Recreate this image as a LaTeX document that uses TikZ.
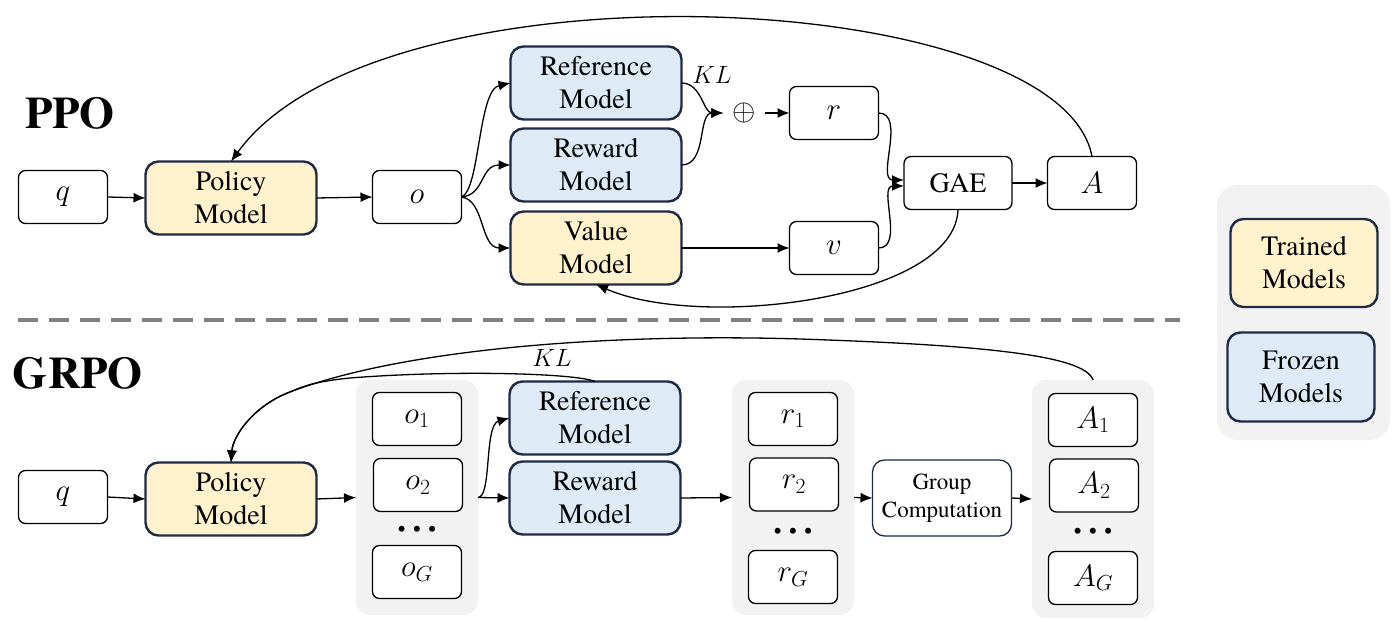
\RequirePackage{fix-cm}
\documentclass[tikz,border=0pt]{standalone}
\usepackage{fontspec}
\setmainfont{texgyretermes}[Extension=.otf, UprightFont=*-regular, BoldFont=*-bold, ItalicFont=*-italic, BoldItalicFont=*-bolditalic]
\usetikzlibrary{arrows.meta,calc}
\definecolor{navy}{HTML}{1F2A44}
\definecolor{trainfill}{HTML}{FFF2CC}
\definecolor{frozfill}{HTML}{DEEBF7}
\definecolor{grpbg}{HTML}{F2F2F2}
\definecolor{dashgray}{HTML}{808080}
\begin{document}
\begin{tikzpicture}[x=1pt,y=-1pt,
 every node/.style={inner sep=0pt, outer sep=0pt},
 dots/.style={font=\fontsize{22}{22}\selectfont},
 box/.style={draw=black, line width=1.3pt, rounded corners=7pt, fill=white, minimum width=89pt, minimum height=53pt, font=\fontsize{31}{33}\selectfont},
 model/.style={draw=navy, line width=2.4pt, rounded corners=13pt, minimum width=171pt, minimum height=73pt, align=center, font=\fontsize{28}{33}\selectfont},
 trained/.style={model, fill=trainfill},
 frozen/.style={model, fill=frozfill},
 grp/.style={fill=grpbg, rounded corners=14pt, minimum width=122pt, minimum height=235pt},
 arr/.style={line width=1.3pt, -{Latex[length=12pt,width=10pt]}},
 title/.style={font=\fontsize{45}{48}\selectfont\bfseries},
 kl/.style={font=\fontsize{25}{25}\selectfont},
]
\useasboundingbox (0,0) rectangle (1400,620);

% ---------------- PPO ----------------
\node[title] (ppo) at (70,113) {PPO};
\node[box] (q1) at (63,197) {$q$};
\node[trained] (pol1) at (231,198) {Policy\\Model};
\node[box] (o) at (417,197) {$o$};
\node[frozen] (ref1) at (596,83) {Reference\\Model};
\node[frozen] (rew1) at (596,165) {Reward\\Model};
\node[trained] (val) at (596,248) {Value\\Model};
\node[font=\fontsize{30}{30}\selectfont, inner sep=9pt] (plus) at (744,113) {$\oplus$};
\node[kl] (kl1) at (712,75) {$KL$};
\node[box] (r) at (834,113) {$r$};
\node[box] (v) at (834,248) {$v$};
\node[box, minimum width=108pt, font=\fontsize{28}{33}\selectfont] (gae) at (958,183) {GAE};
\node[box] (A) at (1092,183) {$A$};

\draw[arr] (q1.east) -- (pol1.west);
\draw[arr] (pol1.east) -- (o.west);
\draw[arr] (o.east) .. controls (480,190) and (478,90) .. (ref1.west);
\draw[arr] (o.east) .. controls (485,195) and (480,165) .. (rew1.west);
\draw[arr] (o.east) .. controls (485,200) and (480,248) .. (val.west);
\draw[arr] (ref1.east) to[out=0,in=180] (plus.west);
\draw[arr] (rew1.east) to[out=0,in=180] (plus.west);
\draw[arr] (plus.east) -- (r.west);
\draw[arr] (r.east) to[out=0,in=180] ($(gae.west)+(0,-3)$);
\draw[arr] (v.east) to[out=0,in=180] ($(gae.west)+(0,3)$);
\draw[arr] (val.east) -- (v.west);
\draw[arr] (gae.east) -- (A.west);
\draw[arr] (gae.south) .. controls (955,300) and (700,330) .. (val.south);
\draw[arr] (A.north) .. controls (1060,-14) and (380,-44) .. (pol1.north);

% ---------------- separator ----------------
\draw[dashgray, line width=3.5pt, dash pattern=on 20pt off 11pt] (18,320) -- (1180,320);

% ---------------- legend ----------------
\node[grp, minimum width=173pt, minimum height=255pt, rounded corners=20pt] (leg) at (1303.5,312.5) {};
\node[trained, minimum width=147pt, minimum height=88pt] (tr) at (1304,263) {Trained\\Models};
\node[frozen, minimum width=147pt, minimum height=89pt] (fr) at (1301,377) {Frozen\\Models};

% ---------------- GRPO ----------------
\node[title] (grpo) at (78,373) {GRPO};
\node[box] (q2) at (63,497) {$q$};
\node[trained] (pol2) at (231,499) {Policy\\Model};

\node[grp] (og) at (417,497.5) {};
\node[box] (o1) at (417,419) {$o_1$};
\node[box] (o2) at (418,485) {$o_2$};
\node[dots] (od) at (417,531) {\textbullet\hspace{7.5pt}\textbullet\hspace{7.5pt}\textbullet};
\node[box] (oG) at (417,572) {$o_G$};

\node[frozen] (ref2) at (595,418) {Reference\\Model};
\node[frozen] (rew2) at (595,498) {Reward\\Model};
\node[kl] (kl2) at (552,358) {$KL$};

\node[grp] (rg) at (793,497.5) {};
\node[box] (r1) at (793,419) {$r_1$};
\node[box] (r2) at (794,484.5) {$r_2$};
\node[dots] (rd) at (793,533) {\textbullet\hspace{7.5pt}\textbullet\hspace{7.5pt}\textbullet};
\node[box] (rG) at (793,577) {$r_G$};

\node[box, draw=navy, rounded corners=12pt, minimum width=139pt, minimum height=76pt, align=center, font=\fontsize{23}{28}\selectfont] (gc) at (942,498) {Group\\Computation};

\node[grp, minimum height=238pt] (ag) at (1093,499) {};
\node[box] (A1) at (1093,420) {$A_1$};
\node[box] (A2) at (1094,485.5) {$A_2$};
\node[dots] (Ad) at (1093,533) {\textbullet\hspace{7.5pt}\textbullet\hspace{7.5pt}\textbullet};
\node[box] (AG) at (1093,578) {$A_G$};

\draw[arr] (q2.east) -- (pol2.west);
\draw[arr] (pol2.east) -- (og.west);
\draw[arr] (og.east) -- (rew2.west);
\draw[arr] (og.east) .. controls (492,497) and (484,425) .. (ref2.west);
\draw[arr] (rew2.east) -- (rg.west);
\draw[arr] (rg.east) -- (gc.west);
\draw[arr] (gc.east) -- (ag.west);
\draw[arr] (ag.north) .. controls (1085,355) and (980,345) .. (800,339)
   .. controls (600,333) and (400,350) .. (290,392)
   .. controls (255,405) and (233,435) .. (pol2.north);
\draw[arr] (ref2.north) .. controls (575,373) and (450,370) .. (350,378)
   .. controls (320,381) and (305,385) .. (290,392)
   .. controls (255,405) and (233,435) .. (pol2.north);
\end{tikzpicture}
\end{document}
